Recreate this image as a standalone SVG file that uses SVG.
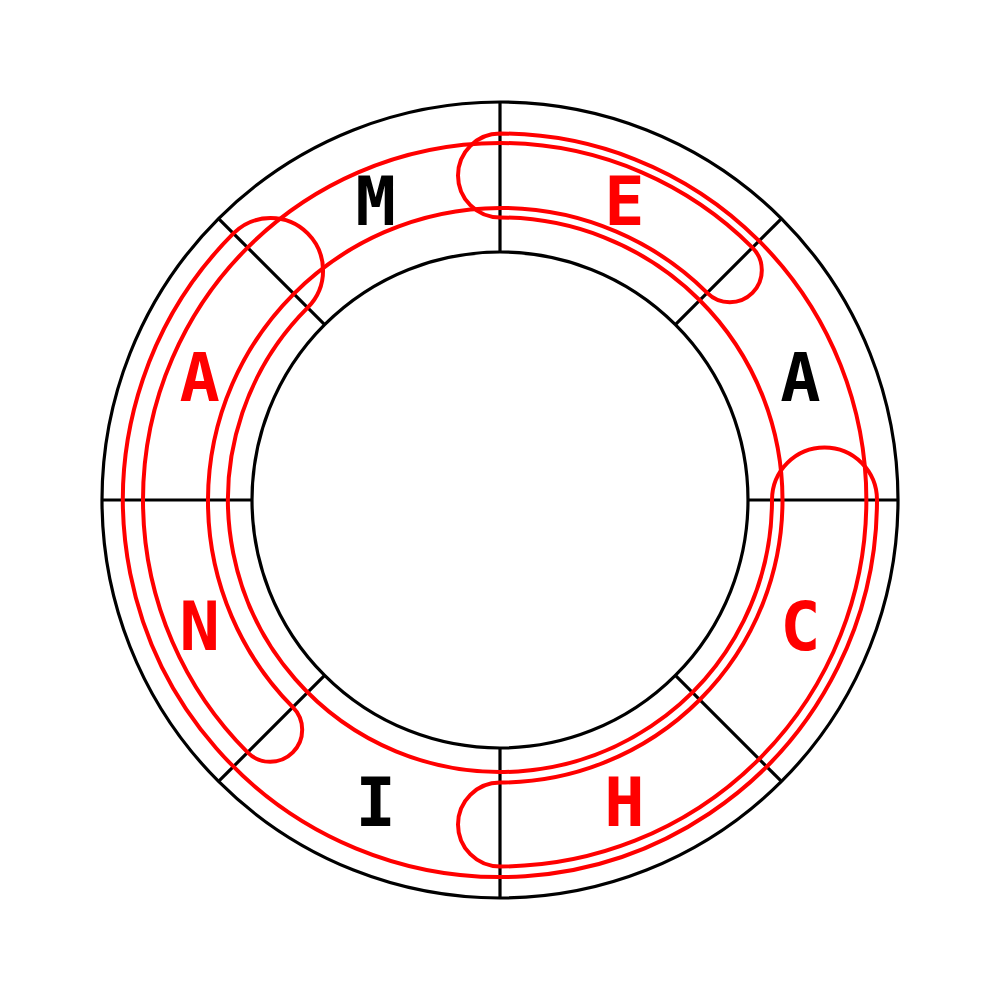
<svg xmlns="http://www.w3.org/2000/svg" width="1000" height="1000" viewBox="0 0 1000 1000">
<style>
.ring{fill:none;stroke:#000;stroke-width:3.2}
.div{stroke:#000;stroke-width:3.2}
.loop{fill:none;stroke:#ff0000;stroke-width:4}
.lbl{font-family:"DejaVu Sans Mono","Liberation Mono",monospace;font-weight:bold;font-size:67px;text-anchor:middle}
.k{fill:#000}
.r{fill:#ff0000}
</style>
<rect width="1000" height="1000" fill="#fff"/>
<g id="ring">
<circle class="ring" cx="500" cy="500" r="398"/>
<circle class="ring" cx="500" cy="500" r="248"/>
<line class="div" x1="748" y1="500" x2="898" y2="500"/>
<line class="div" x1="675.36" y1="675.36" x2="781.43" y2="781.43"/>
<line class="div" x1="500" y1="748" x2="500" y2="898"/>
<line class="div" x1="324.64" y1="675.36" x2="218.57" y2="781.43"/>
<line class="div" x1="252" y1="500" x2="102" y2="500"/>
<line class="div" x1="324.64" y1="324.64" x2="218.57" y2="218.57"/>
<line class="div" x1="500" y1="252" x2="500" y2="102"/>
<line class="div" x1="675.36" y1="324.64" x2="781.43" y2="218.57"/>
</g>
<g id="labels">
<text id="label-M" class="lbl k" x="375.6" y="225">M</text>
<text id="label-E" class="lbl r" x="624.4" y="225">E</text>
<text id="label-A1" class="lbl k" x="800.3" y="401">A</text>
<text id="label-C" class="lbl r" x="800.3" y="650">C</text>
<text id="label-H" class="lbl r" x="624.4" y="826">H</text>
<text id="label-I" class="lbl k" x="375.6" y="826">I</text>
<text id="label-N" class="lbl r" x="199.7" y="650">N</text>
<text id="label-A2" class="lbl r" x="199.7" y="401">A</text>
</g>
<g id="connectors">
<path id="loop-A" class="loop" d="M 500 133.5 A 366.5 366.5 0 0 1 500 866.5 A 42 42 0 0 1 500 782.5 A 282.5 282.5 0 0 0 500 217.5 A 42 42 0 0 1 500 133.5 Z"/>
<path id="loop-B" class="loop" d="M 877 500 A 377 377 0 1 1 233.42 233.42 A 52.5 52.5 0 0 1 307.67 307.67 A 272 272 0 1 0 772 500 A 52.5 52.5 0 0 1 877 500 Z"/>
<path id="loop-C" class="loop" d="M 247.56 752.44 A 357 357 0 0 1 752.44 247.56 A 32 32 0 0 1 707.18 292.82 A 293 293 0 0 0 292.82 707.18 A 32 32 0 0 1 247.56 752.44 Z"/>
</g>
</svg>
